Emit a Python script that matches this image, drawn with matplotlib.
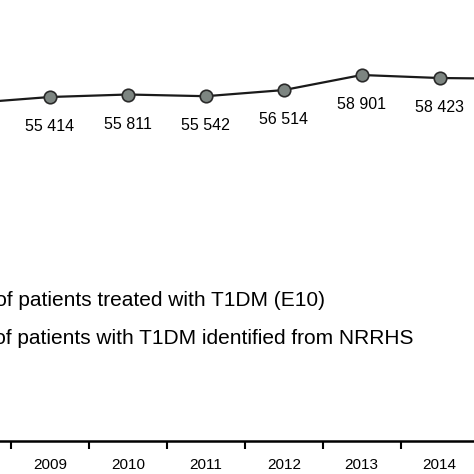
import matplotlib.pyplot as plt

plt.rcParams['font.family'] = ['Liberation Sans', 'DejaVu Sans']

years = [2008, 2009, 2010, 2011, 2012, 2013, 2014, 2015]
treated = [54460, 55414, 55811, 55542, 56514, 58901, 58423, 58300]
shown = [False, True, True, True, True, True, True, False]
tick_years = [2009, 2010, 2011, 2012, 2013, 2014]

fig = plt.figure(figsize=(4.74, 4.74), dpi=100)
ax = fig.add_axes([0, 0.0696, 1, 0.9304])

ax.plot(years, treated, color='#1a1a1a', lw=1.6, marker='o', ms=9,
        mfc='#7d8581', mec='#2a2a2a', mew=1.2)
for x, v, s in zip(years, treated, shown):
    if s:
        ax.annotate(f"{v // 1000} {v % 1000:03d}", (x, v), xytext=(0, -16),
                    textcoords='offset points', ha='center', va='top', fontsize=11.5)

ax.set_xlim(2008.36, 2014.44)
ax.set_ylim(890, 70790)
ax.set_xticks(tick_years)
ax.set_xticklabels([str(y) for y in tick_years], fontsize=11)
ax.set_xticks([y - 0.5 for y in tick_years], minor=True)
ax.tick_params(axis='x', which='major', length=0, pad=12)
ax.tick_params(axis='x', which='minor', length=6, width=1.5, direction='out')
ax.set_yticks([])
for s in ['top', 'right', 'left']:
    ax.spines[s].set_visible(False)
ax.spines['bottom'].set_linewidth(1.8)

fig.text(325 / 474, 1 - 300 / 474, "Number of patients treated with T1DM (E10)",
         ha='right', va='center', fontsize=15)
fig.text(413 / 474, 1 - 338 / 474, "Number of patients with T1DM identified from NRRHS",
         ha='right', va='center', fontsize=15)

fig.savefig('out.png', dpi=100)
